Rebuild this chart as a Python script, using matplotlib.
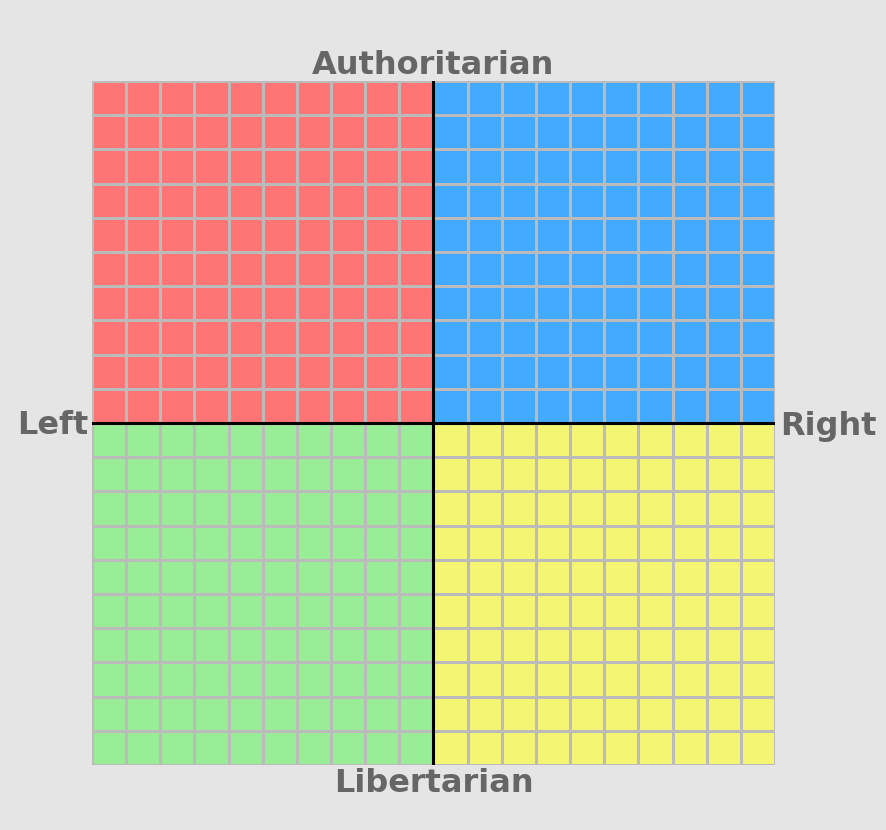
import numpy as np
import matplotlib

matplotlib.use("Agg")
from matplotlib import pyplot as plt
from matplotlib.patches import Rectangle

# quadrants: (x0, y0, colour)
quad_x = [-10, 0, -10, 0]
quad_y = [0, 0, -10, -10]
quad_colors = ["#ff7575", "#42aaff", "#9aed97", "#f5f574"]
axis_labels = ["Authoritarian", "Libertarian", "Left", "Right"]

bg = "#e5e5e5"
fig = plt.figure(figsize=(8.87, 8.30), dpi=100, facecolor=bg)
ax = fig.add_axes([92 / 887, 65 / 830, 683 / 887, 684 / 830])

for x0, y0, c in zip(quad_x, quad_y, quad_colors):
    ax.add_patch(Rectangle((x0, y0), 10, 10, facecolor=c, edgecolor="none", zorder=1))

ticks = np.arange(-10, 11, 1)
for t in ticks:
    ax.axvline(t, color="#bbbbbb", lw=2.2, zorder=2)
    ax.axhline(t, color="#bbbbbb", lw=2.2, zorder=2)

ax.axvline(0, color="black", lw=2.2, zorder=3)
ax.axhline(0, color="black", lw=2.2, zorder=3)

ax.set_xlim(-10, 10)
ax.set_ylim(-10, 10)
ax.set_xticks([])
ax.set_yticks([])
for s in ax.spines.values():
    s.set_visible(False)

tkw = dict(fontsize=23, fontweight="bold", color="#666666", family="DejaVu Sans")
ax.text(0, 10.2, axis_labels[0], ha="center", va="baseline", **tkw)
ax.text(0, -10.79, axis_labels[1], ha="center", va="baseline", **tkw)
ax.text(-10.12, -0.32, axis_labels[2], ha="right", va="baseline", **tkw)
ax.text(10.15, -0.35, axis_labels[3], ha="left", va="baseline", **tkw)

fig.savefig("out.png", facecolor=bg)
